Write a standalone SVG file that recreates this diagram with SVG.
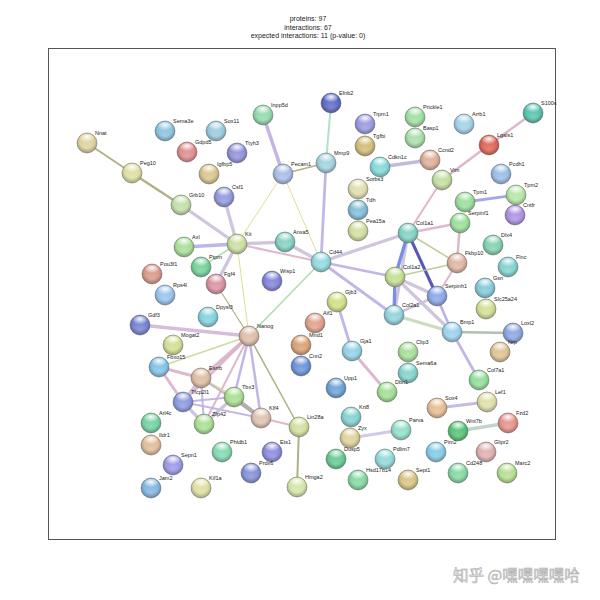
<svg xmlns="http://www.w3.org/2000/svg" xmlns:xlink="http://www.w3.org/1999/xlink" width="600" height="600" viewBox="0 0 600 600">
<style>
text{font-family:"Liberation Sans",Arial,sans-serif;}
.lb{font-size:5.5px;fill:#222;}
.tt{font-size:7px;fill:#222;text-anchor:middle;}
.wm{font-family:"Noto Sans CJK SC","Liberation Sans",sans-serif;font-size:15.5px;fill:#e2e2e2;stroke:#a8a8a8;stroke-width:.5;}
#edges line{fill:none;stroke-linecap:round;stroke-opacity:.9;}
.y{stroke:#dcdc8a;stroke-width:1;}
.g{stroke:#a6d8a8;stroke-width:1.5;}
.o{stroke:#a9a978;stroke-width:1.8;}
.p{stroke:#dab0c6;stroke-width:2.5;}
.v{stroke:#bcaee2;stroke-width:2.8;}
.m{stroke:#cbbfdc;stroke-width:3.3;}
.b{stroke:#4a4ab4;stroke-width:3;}
.bl{stroke:#6c84e0;stroke-width:3.3;}
.k{stroke:#a8a8a8;stroke-width:4;}
.gy{stroke:#a9b9a9;stroke-width:2.5;}
</style>
<defs>
<radialGradient id="shade" cx="0.5" cy="0.4" r="0.6">
<stop offset="0.6" stop-color="#000" stop-opacity="0"/>
<stop offset="1" stop-color="#000" stop-opacity="0.28"/>
</radialGradient>
<radialGradient id="hi" cx="0.5" cy="0.35" r="0.65">
<stop offset="0" stop-color="#fff" stop-opacity="0.95"/>
<stop offset="1" stop-color="#fff" stop-opacity="0"/>
</radialGradient>
<radialGradient id="lt" cx="0.5" cy="0.7" r="0.6">
<stop offset="0" stop-color="#fff" stop-opacity="0.25"/>
<stop offset="1" stop-color="#fff" stop-opacity="0"/>
</radialGradient>
<g id="gl">
<circle r="10" fill="url(#lt)"/>
<circle r="10" fill="url(#shade)" stroke="#5a5a5a" stroke-opacity=".6" stroke-width=".8"/>
<ellipse cy="-4.8" rx="6.8" ry="4.2" fill="url(#hi)"/>
</g>
</defs>
<rect width="600" height="600" fill="#fff"/>
<text class="tt" x="308" y="21">proteins: 97</text>
<text class="tt" x="308" y="29.5">interactions: 67</text>
<text class="tt" x="308" y="38">expected interactions: 11 (p-value: 0)</text>
<rect x="48.5" y="48.5" width="507" height="491" fill="none" stroke="#555" stroke-width="1"/>

<g id="edges">
<line class="o" x1="87" y1="143" x2="132" y2="173"/>
<line class="o" x1="132" y1="173" x2="181" y2="205" style="stroke-width:2.5"/>
<line class="m" x1="181" y1="205" x2="237" y2="244"/>
<line class="m" x1="224" y1="197" x2="237" y2="244"/>
<line class="v" x1="263" y1="115" x2="283" y2="174" style="stroke-width:3.5"/>
<line class="g" x1="331" y1="103" x2="326" y2="163" style="stroke:#a8dcc8;stroke-width:2"/>
<line class="o" x1="283" y1="174" x2="326" y2="163" style="stroke-width:1.5"/>
<line class="y" x1="283" y1="174" x2="237" y2="244"/>
<line class="y" x1="283" y1="174" x2="321" y2="262"/>
<line class="v" x1="326" y1="163" x2="321" y2="262"/>
<line class="m" x1="237" y1="244" x2="285" y2="242"/>
<line class="p" x1="237" y1="244" x2="321" y2="262" style="stroke-width:2"/>
<line class="m" x1="285" y1="242" x2="321" y2="262"/>
<line class="m" x1="237" y1="244" x2="184" y2="247" style="stroke:#b2b0e6"/>
<line class="g" x1="237" y1="244" x2="201" y2="267"/>
<line class="m" x1="237" y1="244" x2="216" y2="284"/>
<line class="y" x1="237" y1="244" x2="249" y2="336"/>
<line class="g" x1="321" y1="262" x2="249" y2="336"/>
<line class="m" x1="321" y1="262" x2="408" y2="233"/>
<line class="v" x1="321" y1="262" x2="395" y2="277"/>
<line class="v" x1="321" y1="262" x2="394" y2="315"/>
<line class="p" x1="442" y1="180" x2="408" y2="233" style="stroke-width:2"/>
<line class="m" x1="380" y1="167" x2="430" y2="160" style="stroke:#b8b4dc"/>
<line class="p" x1="442" y1="180" x2="489" y2="145"/>
<line class="p" x1="489" y1="145" x2="533" y2="113"/>
<line class="v" x1="465" y1="202" x2="516" y2="195" style="stroke:#9c9ce4"/>
<line class="p" x1="408" y1="233" x2="460" y2="223"/>
<line class="o" x1="408" y1="233" x2="457" y2="263" style="stroke:#b8c890;stroke-width:1.5"/>
<line class="m" x1="408" y1="233" x2="394" y2="315"/>
<line class="m" x1="408" y1="233" x2="452" y2="332" style="stroke-width:2.5"/>
<line class="bl" x1="408" y1="233" x2="395" y2="277"/>
<line class="b" x1="408" y1="233" x2="437" y2="296"/>
<line class="p" x1="460" y1="223" x2="457" y2="263"/>
<line class="o" x1="457" y1="263" x2="395" y2="277" style="stroke:#b8c890;stroke-width:1.5"/>
<line class="p" x1="457" y1="263" x2="437" y2="296" style="stroke-width:2"/>
<line class="m" x1="395" y1="277" x2="437" y2="296"/>
<line class="bl" x1="395" y1="277" x2="394" y2="315"/>
<line class="m" x1="395" y1="277" x2="452" y2="332"/>
<line class="m" x1="394" y1="315" x2="437" y2="296" style="stroke-width:2.5"/>
<line class="m" x1="394" y1="315" x2="452" y2="332" style="stroke:#c8d8b8"/>
<line class="v" x1="437" y1="296" x2="452" y2="332" style="stroke-width:2"/>
<line class="gy" x1="452" y1="332" x2="513" y2="333"/>
<line class="v" x1="452" y1="332" x2="479" y2="380"/>
<line class="v" x1="337" y1="302" x2="352" y2="351"/>
<line class="p" x1="352" y1="351" x2="387" y2="392" style="stroke-width:3"/>
<line class="m" x1="249" y1="336" x2="140" y2="325" style="stroke:#d2b6d6"/>
<line class="g" x1="249" y1="336" x2="159" y2="367" style="stroke:#c6d89a"/>
<line class="o" x1="249" y1="336" x2="216" y2="284" style="stroke-width:1.2"/>
<line class="p" x1="249" y1="336" x2="201" y2="378" style="stroke-width:3"/>
<line class="p" x1="249" y1="336" x2="183" y2="402"/>
<line class="p" x1="249" y1="336" x2="204" y2="424" style="stroke-width:2"/>
<line class="v" x1="249" y1="336" x2="234" y2="397" style="stroke-width:2.5"/>
<line class="v" x1="249" y1="336" x2="261" y2="418" style="stroke-width:2.5"/>
<line class="o" x1="249" y1="336" x2="299" y2="427" style="stroke-width:1.5"/>
<line class="p" x1="159" y1="367" x2="201" y2="378" style="stroke-width:3"/>
<line class="p" x1="159" y1="367" x2="183" y2="402" style="stroke-width:3"/>
<line class="m" x1="201" y1="378" x2="183" y2="402"/>
<line class="y" x1="201" y1="378" x2="234" y2="397" style="stroke-width:2.2"/>
<line class="v" x1="201" y1="378" x2="261" y2="418" style="stroke-width:2"/>
<line class="v" x1="201" y1="378" x2="204" y2="424" style="stroke-width:2"/>
<line class="v" x1="183" y1="402" x2="234" y2="397" style="stroke-width:2"/>
<line class="v" x1="183" y1="402" x2="261" y2="418" style="stroke-width:2"/>
<line class="m" x1="183" y1="402" x2="204" y2="424"/>
<line class="m" x1="204" y1="424" x2="234" y2="397"/>
<line class="k" x1="234" y1="397" x2="261" y2="418"/>
<line class="p" x1="261" y1="418" x2="299" y2="427" style="stroke-width:2"/>
<line class="o" x1="299" y1="427" x2="297" y2="487" style="stroke-width:2"/>
<line class="v" x1="350" y1="438" x2="401" y2="430" style="stroke:#cbc3e8"/>
<line class="v" x1="437" y1="408" x2="487" y2="402" style="stroke:#c0b4e6"/>
<line class="m" x1="458" y1="431" x2="508" y2="423" style="stroke:#bcd0c4"/>
</g>

<g id="nodes">
<g id="Nnat" transform="translate(87,143)"><circle r="10" fill="#dccf96"/><use href="#gl"/><text class="lb" x="8" y="-8">Nnat</text></g>
<g id="Peg10" transform="translate(132,173)"><circle r="10" fill="#dcdc9c"/><use href="#gl"/><text class="lb" x="8" y="-8">Peg10</text></g>
<g id="Grb10" transform="translate(181,205)"><circle r="10" fill="#bedca2"/><use href="#gl"/><text class="lb" x="8" y="-8">Grb10</text></g>
<g id="Sema3e" transform="translate(165,131)"><circle r="10" fill="#84bedc"/><use href="#gl"/><text class="lb" x="8" y="-8">Sema3e</text></g>
<g id="Sox11" transform="translate(216,131)"><circle r="10" fill="#94c6dc"/><use href="#gl"/><text class="lb" x="8" y="-8">Sox11</text></g>
<g id="Gdpd5" transform="translate(187,152)"><circle r="10" fill="#dc8484"/><use href="#gl"/><text class="lb" x="8" y="-8">Gdpd5</text></g>
<g id="Ttyh3" transform="translate(237,153)"><circle r="10" fill="#8a8ad6"/><use href="#gl"/><text class="lb" x="8" y="-8">Ttyh3</text></g>
<g id="Igfbp5" transform="translate(209,174)"><circle r="10" fill="#d6c084"/><use href="#gl"/><text class="lb" x="8" y="-8">Igfbp5</text></g>
<g id="Csf1" transform="translate(224,197)"><circle r="10" fill="#8a92dc"/><use href="#gl"/><text class="lb" x="8" y="-8">Csf1</text></g>
<g id="Inpp5d" transform="translate(263,115)"><circle r="10" fill="#8ad6aa"/><use href="#gl"/><text class="lb" x="8" y="-8">Inpp5d</text></g>
<g id="Efnb2" transform="translate(331,103)"><circle r="10" fill="#5262c0"/><use href="#gl"/><text class="lb" x="8" y="-8">Efnb2</text></g>
<g id="Pecam1" transform="translate(283,174)"><circle r="10" fill="#a2b8e4"/><use href="#gl"/><text class="lb" x="8" y="-8">Pecam1</text></g>
<g id="Mmp9" transform="translate(326,163)"><circle r="10" fill="#9acedc"/><use href="#gl"/><text class="lb" x="8" y="-8">Mmp9</text></g>
<g id="Trpm1" transform="translate(365,124)"><circle r="10" fill="#9292dc"/><use href="#gl"/><text class="lb" x="8" y="-8">Trpm1</text></g>
<g id="Tgfbi" transform="translate(365,146)"><circle r="10" fill="#ceb86c"/><use href="#gl"/><text class="lb" x="8" y="-8">Tgfbi</text></g>
<g id="Sorbs3" transform="translate(358,189)"><circle r="10" fill="#dcdca8"/><use href="#gl"/><text class="lb" x="8" y="-8">Sorbs3</text></g>
<g id="Tdh" transform="translate(358,210)"><circle r="10" fill="#7ab8d6"/><use href="#gl"/><text class="lb" x="8" y="-8">Tdh</text></g>
<g id="Pea15a" transform="translate(358,231)"><circle r="10" fill="#cedc9a"/><use href="#gl"/><text class="lb" x="8" y="-8">Pea15a</text></g>
<g id="Cdkn1c" transform="translate(380,167)"><circle r="10" fill="#7ad6d6"/><use href="#gl"/><text class="lb" x="8" y="-8">Cdkn1c</text></g>
<g id="Prickle1" transform="translate(415,117)"><circle r="10" fill="#9adc9a"/><use href="#gl"/><text class="lb" x="8" y="-8">Prickle1</text></g>
<g id="Basp1" transform="translate(415,138)"><circle r="10" fill="#a2dca2"/><use href="#gl"/><text class="lb" x="8" y="-8">Basp1</text></g>
<g id="Arrb1" transform="translate(464,124)"><circle r="10" fill="#9aceE4"/><use href="#gl"/><text class="lb" x="8" y="-8">Arrb1</text></g>
<g id="S100s" transform="translate(533,113)"><circle r="10" fill="#4cbea8"/><use href="#gl"/><text class="lb" x="8" y="-8">S100s</text></g>
<g id="Lgals1" transform="translate(489,145)"><circle r="10" fill="#dc5a4a"/><use href="#gl"/><text class="lb" x="8" y="-8">Lgals1</text></g>
<g id="Ccnd2" transform="translate(430,160)"><circle r="10" fill="#dca892"/><use href="#gl"/><text class="lb" x="8" y="-8">Ccnd2</text></g>
<g id="Vim" transform="translate(442,180)"><circle r="10" fill="#bedc9a"/><use href="#gl"/><text class="lb" x="8" y="-8">Vim</text></g>
<g id="Pcdh1" transform="translate(501,174)"><circle r="10" fill="#92b8e4"/><use href="#gl"/><text class="lb" x="8" y="-8">Pcdh1</text></g>
<g id="Tpm1" transform="translate(465,202)"><circle r="10" fill="#92dc92"/><use href="#gl"/><text class="lb" x="8" y="-8">Tpm1</text></g>
<g id="Tpm2" transform="translate(516,195)"><circle r="10" fill="#b0e4a2"/><use href="#gl"/><text class="lb" x="8" y="-8">Tpm2</text></g>
<g id="Cntfr" transform="translate(515,215)"><circle r="10" fill="#a88ae4"/><use href="#gl"/><text class="lb" x="8" y="-8">Cntfr</text></g>
<g id="Serpinf1" transform="translate(460,223)"><circle r="10" fill="#92dc92"/><use href="#gl"/><text class="lb" x="8" y="-8">Serpinf1</text></g>
<g id="Axl" transform="translate(184,247)"><circle r="10" fill="#a2dc92"/><use href="#gl"/><text class="lb" x="8" y="-8">Axl</text></g>
<g id="Kit" transform="translate(237,244)"><circle r="10" fill="#c6dc9a"/><use href="#gl"/><text class="lb" x="8" y="-8">Kit</text></g>
<g id="Ptprn" transform="translate(201,267)"><circle r="10" fill="#6ace92"/><use href="#gl"/><text class="lb" x="8" y="-8">Ptprn</text></g>
<g id="Pou3f1" transform="translate(152,274)"><circle r="10" fill="#d69282"/><use href="#gl"/><text class="lb" x="8" y="-8">Pou3f1</text></g>
<g id="Fgf4" transform="translate(216,284)"><circle r="10" fill="#d68a9a"/><use href="#gl"/><text class="lb" x="8" y="-8">Fgf4</text></g>
<g id="Rps4l" transform="translate(165,295)"><circle r="10" fill="#92beEc"/><use href="#gl"/><text class="lb" x="8" y="-8">Rps4l</text></g>
<g id="Dpysl3" transform="translate(208,317)"><circle r="10" fill="#7aceDc"/><use href="#gl"/><text class="lb" x="8" y="-8">Dpysl3</text></g>
<g id="Gdf3" transform="translate(140,325)"><circle r="10" fill="#6a7ace"/><use href="#gl"/><text class="lb" x="8" y="-8">Gdf3</text></g>
<g id="Mogat2" transform="translate(173,345)"><circle r="10" fill="#cedc8a"/><use href="#gl"/><text class="lb" x="8" y="-8">Mogat2</text></g>
<g id="Fbxo15" transform="translate(159,367)"><circle r="10" fill="#7abee4"/><use href="#gl"/><text class="lb" x="8" y="-8">Fbxo15</text></g>
<g id="Anxa5" transform="translate(285,242)"><circle r="10" fill="#7aceBe"/><use href="#gl"/><text class="lb" x="8" y="-8">Anxa5</text></g>
<g id="Cd44" transform="translate(321,262)"><circle r="10" fill="#8ad6dc"/><use href="#gl"/><text class="lb" x="8" y="-8">Cd44</text></g>
<g id="Wisp1" transform="translate(272,281)"><circle r="10" fill="#7a7ad6"/><use href="#gl"/><text class="lb" x="8" y="-8">Wisp1</text></g>
<g id="Gjb3" transform="translate(337,302)"><circle r="10" fill="#cedc7a"/><use href="#gl"/><text class="lb" x="8" y="-8">Gjb3</text></g>
<g id="Aif1" transform="translate(315,323)"><circle r="10" fill="#dc9a82"/><use href="#gl"/><text class="lb" x="8" y="-8">Aif1</text></g>
<g id="Mnd1" transform="translate(301,345)"><circle r="10" fill="#d69a6a"/><use href="#gl"/><text class="lb" x="8" y="-8">Mnd1</text></g>
<g id="Cnn2" transform="translate(301,366)"><circle r="10" fill="#628ad6"/><use href="#gl"/><text class="lb" x="8" y="-8">Cnn2</text></g>
<g id="Gja1" transform="translate(352,351)"><circle r="10" fill="#8aceE4"/><use href="#gl"/><text class="lb" x="8" y="-8">Gja1</text></g>
<g id="Nanog" transform="translate(249,336)"><circle r="10" fill="#dcb8a2"/><use href="#gl"/><text class="lb" x="8" y="-8">Nanog</text></g>
<g id="Col1a1" transform="translate(408,233)"><circle r="10" fill="#7aceBe"/><use href="#gl"/><text class="lb" x="8" y="-8">Col1a1</text></g>
<g id="Col1a2" transform="translate(395,277)"><circle r="10" fill="#bedc8a"/><use href="#gl"/><text class="lb" x="8" y="-8">Col1a2</text></g>
<g id="Col2a1" transform="translate(394,315)"><circle r="10" fill="#8aceDc"/><use href="#gl"/><text class="lb" x="8" y="-8">Col2a1</text></g>
<g id="Serpinh1" transform="translate(437,296)"><circle r="10" fill="#82a0e4"/><use href="#gl"/><text class="lb" x="8" y="-8">Serpinh1</text></g>
<g id="Fkbp10" transform="translate(457,263)"><circle r="10" fill="#dcb09a"/><use href="#gl"/><text class="lb" x="8" y="-8">Fkbp10</text></g>
<g id="Bmp1" transform="translate(452,332)"><circle r="10" fill="#92ceEc"/><use href="#gl"/><text class="lb" x="8" y="-8">Bmp1</text></g>
<g id="Loxl2" transform="translate(513,333)"><circle r="10" fill="#82a0dc"/><use href="#gl"/><text class="lb" x="8" y="-8">Loxl2</text></g>
<g id="Nrp" transform="translate(500,352)"><circle r="10" fill="#dcbe8a"/><use href="#gl"/><text class="lb" x="8" y="-8">Nrp</text></g>
<g id="Dlx4" transform="translate(493,245)"><circle r="10" fill="#7aceAa"/><use href="#gl"/><text class="lb" x="8" y="-8">Dlx4</text></g>
<g id="Flnc" transform="translate(508,267)"><circle r="10" fill="#7aceCe"/><use href="#gl"/><text class="lb" x="8" y="-8">Flnc</text></g>
<g id="Gsn" transform="translate(485,288)"><circle r="10" fill="#7ac6d6"/><use href="#gl"/><text class="lb" x="8" y="-8">Gsn</text></g>
<g id="Slc25a24" transform="translate(486,309)"><circle r="10" fill="#cedc8a"/><use href="#gl"/><text class="lb" x="8" y="-8">Slc25a24</text></g>
<g id="Clip3" transform="translate(408,352)"><circle r="10" fill="#a2dc92"/><use href="#gl"/><text class="lb" x="8" y="-8">Clip3</text></g>
<g id="Sema6a" transform="translate(408,373)"><circle r="10" fill="#7aceC6"/><use href="#gl"/><text class="lb" x="8" y="-8">Sema6a</text></g>
<g id="Col7a1" transform="translate(479,380)"><circle r="10" fill="#8adc92"/><use href="#gl"/><text class="lb" x="8" y="-8">Col7a1</text></g>
<g id="Esrrb" transform="translate(201,378)"><circle r="10" fill="#dcb89a"/><use href="#gl"/><text class="lb" x="8" y="-8">Esrrb</text></g>
<g id="Tfcp2l1" transform="translate(183,402)"><circle r="10" fill="#8292dc"/><use href="#gl"/><text class="lb" x="8" y="-8">Tfcp2l1</text></g>
<g id="Tbx3" transform="translate(234,397)"><circle r="10" fill="#a2dc8a"/><use href="#gl"/><text class="lb" x="8" y="-8">Tbx3</text></g>
<g id="Zfp42" transform="translate(204,424)"><circle r="10" fill="#a2dc8a"/><use href="#gl"/><text class="lb" x="8" y="-8">Zfp42</text></g>
<g id="Klf4" transform="translate(261,418)"><circle r="10" fill="#dcbeaa"/><use href="#gl"/><text class="lb" x="8" y="-8">Klf4</text></g>
<g id="Arl4c" transform="translate(151,423)"><circle r="10" fill="#6ace9a"/><use href="#gl"/><text class="lb" x="8" y="-8">Arl4c</text></g>
<g id="Ildr1" transform="translate(151,445)"><circle r="10" fill="#dcb892"/><use href="#gl"/><text class="lb" x="8" y="-8">Ildr1</text></g>
<g id="Sepn1" transform="translate(173,465)"><circle r="10" fill="#9292e4"/><use href="#gl"/><text class="lb" x="8" y="-8">Sepn1</text></g>
<g id="Jam2" transform="translate(151,488)"><circle r="10" fill="#7ab0dc"/><use href="#gl"/><text class="lb" x="8" y="-8">Jam2</text></g>
<g id="Kif1a" transform="translate(201,488)"><circle r="10" fill="#dcdc9a"/><use href="#gl"/><text class="lb" x="8" y="-8">Kif1a</text></g>
<g id="Phldb1" transform="translate(222,452)"><circle r="10" fill="#7ad6aa"/><use href="#gl"/><text class="lb" x="8" y="-8">Phldb1</text></g>
<g id="Ets1" transform="translate(272,452)"><circle r="10" fill="#8282dc"/><use href="#gl"/><text class="lb" x="8" y="-8">Ets1</text></g>
<g id="Prdx6" transform="translate(251,473)"><circle r="10" fill="#7a8ad6"/><use href="#gl"/><text class="lb" x="8" y="-8">Prdx6</text></g>
<g id="Lin28a" transform="translate(299,427)"><circle r="10" fill="#cedc9a"/><use href="#gl"/><text class="lb" x="8" y="-8">Lin28a</text></g>
<g id="Hmga2" transform="translate(297,487)"><circle r="10" fill="#cee4a2"/><use href="#gl"/><text class="lb" x="8" y="-8">Hmga2</text></g>
<g id="Upp1" transform="translate(336,388)"><circle r="10" fill="#629ad6"/><use href="#gl"/><text class="lb" x="8" y="-8">Upp1</text></g>
<g id="Krt8" transform="translate(351,417)"><circle r="10" fill="#7aceCe"/><use href="#gl"/><text class="lb" x="8" y="-8">Krt8</text></g>
<g id="Zyx" transform="translate(350,438)"><circle r="10" fill="#dcce92"/><use href="#gl"/><text class="lb" x="8" y="-8">Zyx</text></g>
<g id="Dusp5" transform="translate(336,459)"><circle r="10" fill="#5ac68a"/><use href="#gl"/><text class="lb" x="8" y="-8">Dusp5</text></g>
<g id="Hsd17b14" transform="translate(358,480)"><circle r="10" fill="#7ad69a"/><use href="#gl"/><text class="lb" x="8" y="-8">Hsd17b14</text></g>
<g id="Pdlim7" transform="translate(385,459)"><circle r="10" fill="#8ad6d6"/><use href="#gl"/><text class="lb" x="8" y="-8">Pdlim7</text></g>
<g id="Parva" transform="translate(401,430)"><circle r="10" fill="#8adcc6"/><use href="#gl"/><text class="lb" x="8" y="-8">Parva</text></g>
<g id="Dbn1" transform="translate(387,392)"><circle r="10" fill="#9adc8a"/><use href="#gl"/><text class="lb" x="8" y="-8">Dbn1</text></g>
<g id="Sept1" transform="translate(408,480)"><circle r="10" fill="#d6be7a"/><use href="#gl"/><text class="lb" x="8" y="-8">Sept1</text></g>
<g id="Sox4" transform="translate(437,408)"><circle r="10" fill="#e4b88a"/><use href="#gl"/><text class="lb" x="8" y="-8">Sox4</text></g>
<g id="Lef1" transform="translate(487,402)"><circle r="10" fill="#dcdca2"/><use href="#gl"/><text class="lb" x="8" y="-8">Lef1</text></g>
<g id="Wnt7b" transform="translate(458,431)"><circle r="10" fill="#4abe6a"/><use href="#gl"/><text class="lb" x="8" y="-8">Wnt7b</text></g>
<g id="Fzd2" transform="translate(508,423)"><circle r="10" fill="#e48a82"/><use href="#gl"/><text class="lb" x="8" y="-8">Fzd2</text></g>
<g id="Pim2" transform="translate(436,452)"><circle r="10" fill="#7ac6e4"/><use href="#gl"/><text class="lb" x="8" y="-8">Pim2</text></g>
<g id="Glipr2" transform="translate(486,452)"><circle r="10" fill="#dcaaaa"/><use href="#gl"/><text class="lb" x="8" y="-8">Glipr2</text></g>
<g id="Cd248" transform="translate(458,473)"><circle r="10" fill="#7ad69a"/><use href="#gl"/><text class="lb" x="8" y="-8">Cd248</text></g>
<g id="Marc2" transform="translate(507,473)"><circle r="10" fill="#b0dc8a"/><use href="#gl"/><text class="lb" x="8" y="-8">Marc2</text></g>
</g>

<text class="wm" x="453" y="581">知乎 @嘿嘿嘿嘿哈</text>
</svg>
